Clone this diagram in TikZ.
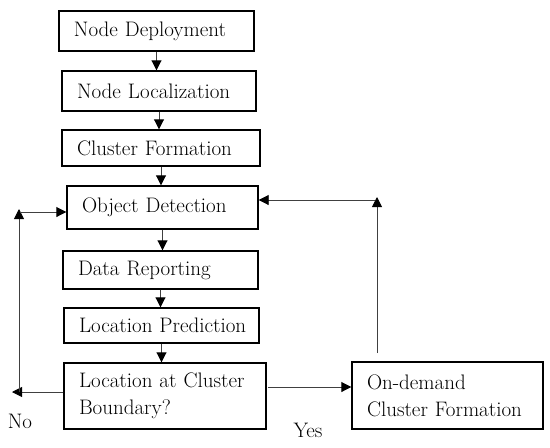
\documentclass[tikz,border=0pt]{standalone}
\usetikzlibrary{arrows.meta,calc}
\begin{document}
\begin{tikzpicture}[x=1pt,y=-1pt,
  every node/.style={font=\fontsize{21}{27}\selectfont},
  box/.style={draw=black,line width=1.4pt,rectangle,inner xsep=15pt,inner ysep=0pt,align=left,anchor=center},
  arr/.style={draw=black!75,line width=0.9pt,-{Triangle[length=10pt,width=10pt,color=black]}},
  lbl/.style={anchor=base,inner sep=0pt}]
\useasboundingbox (0,0) rectangle (550,448);
\node[box,minimum width=195pt,minimum height=40pt,text width=165pt] (b1) at (156.5,31) {\mbox{Node Deployment}};
\node[box,minimum width=194pt,minimum height=40pt,text width=164pt] (b2) at (159,91) {\mbox{Node Localization}};
\node[box,minimum width=198pt,minimum height=36pt,text width=168pt] (b3) at (161,148) {\mbox{Cluster Formation}};
\node[box,minimum width=191pt,minimum height=43pt,text width=161pt] (b4) at (162.5,207.5) {\mbox{Object Detection}};
\node[box,minimum width=195pt,minimum height=38pt,text width=165pt] (b5) at (160.5,270) {\mbox{Data Reporting}};
\node[box,minimum width=195pt,minimum height=35pt,text width=165pt] (b6) at (161.5,325.5) {\mbox{Location Prediction}};
\node[box,minimum width=202pt,minimum height=66pt,text width=172pt] (b7) at (165,396) {\mbox{Location at Cluster}\\Boundary?};
\node[box,minimum width=191pt,minimum height=67pt,text width=161pt] (b8) at (447.5,395.5) {On-demand\\\mbox{Cluster Formation}};
% vertical flow
\draw[arr] (b1.south) -- (b1.south |- b2.north);
\draw[arr] (b2.south) -- (b2.south |- b3.north);
\draw[arr] (b3.south) -- (b3.south |- b4.north);
\draw[arr] (b4.south) -- (b4.south |- b5.north);
\draw[arr] (b5.south) -- (b5.south |- b6.north);
\draw[arr] (b6.south) -- (b6.south |- b7.north);
% No loop
\coordinate (nl) at (12,392);
\coordinate (L1) at (19,392);
\coordinate (L2) at (19,209);
\coordinate (L3) at (20,212);
\draw[arr] ([yshift=4pt]b7.west) -- (nl);
\draw[arr] (L1) -- (L2);
\draw[arr] (L3) -- (L3 -| b4.west);
% Yes path
\coordinate (Y0) at (268,387);
\draw[arr] (Y0) -- (Y0 -| b8.west);
\coordinate (R1) at (377,353);
\coordinate (R2) at (377,197);
\coordinate (R3) at (375,200);
\draw[arr] (R1) -- (R2);
\draw[arr] (R3) -- (R3 -| b4.east);
% labels
\node[lbl] (no) at (20,428) {No};
\node[lbl] (yes) at (308,437) {Yes};
\end{tikzpicture}
\end{document}
